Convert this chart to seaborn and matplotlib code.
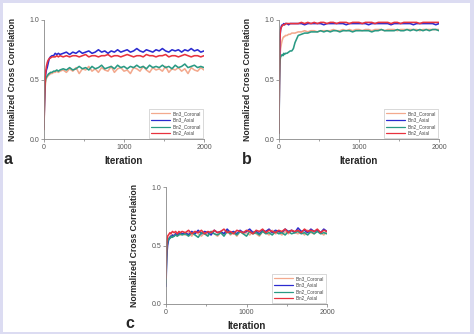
import numpy as np
import pandas as pd
import matplotlib
matplotlib.use("Agg")
import matplotlib.pyplot as plt
from matplotlib.patches import Rectangle
import seaborn as sns

# iteration grid (fine at the start, coarser later)
iters = [0, 5, 10, 15, 20, 30, 40, 50, 60, 70, 80, 100, 120, 140, 160, 180, 200] + list(range(240, 2001, 40))

series_names = ["Bin3_Coronal", "Bin3_Axial", "Bin2_Coronal", "Bin2_Axial"]
colors = ["#f3a98e", "#2b2bd0", "#2a9a84", "#e8323e"]

# panel a
a_bin3_cor = [0.08, 0.25, 0.38, 0.44, 0.48, 0.51, 0.52, 0.53, 0.54, 0.54, 0.55, 0.55, 0.56, 0.56, 0.57, 0.56, 0.57,
              0.58, 0.56, 0.59, 0.57, 0.60, 0.55, 0.59, 0.58, 0.61, 0.57, 0.59, 0.56, 0.60, 0.58, 0.57,
              0.61, 0.56, 0.59, 0.60, 0.57, 0.58, 0.55, 0.60, 0.59, 0.57, 0.61, 0.58, 0.56, 0.60, 0.58,
              0.59, 0.57, 0.61, 0.56, 0.59, 0.58, 0.60, 0.57, 0.59, 0.55, 0.60, 0.58, 0.57, 0.60, 0.58]
a_bin3_ax = [0.10, 0.28, 0.42, 0.50, 0.54, 0.58, 0.60, 0.63, 0.66, 0.68, 0.69, 0.70, 0.70, 0.72, 0.71, 0.72, 0.71,
             0.72, 0.73, 0.71, 0.73, 0.72, 0.74, 0.72, 0.73, 0.74, 0.72, 0.73, 0.75, 0.73, 0.74, 0.72,
             0.74, 0.73, 0.75, 0.73, 0.74, 0.75, 0.73, 0.74, 0.76, 0.74, 0.73, 0.75, 0.74, 0.73, 0.75,
             0.74, 0.76, 0.74, 0.73, 0.75, 0.74, 0.75, 0.73, 0.75, 0.74, 0.76, 0.74, 0.75, 0.73, 0.74]
a_bin2_cor = [0.12, 0.32, 0.42, 0.47, 0.50, 0.52, 0.53, 0.54, 0.55, 0.55, 0.56, 0.56, 0.57, 0.57, 0.58, 0.57, 0.58,
              0.59, 0.58, 0.60, 0.58, 0.59, 0.61, 0.59, 0.60, 0.58, 0.61, 0.59, 0.60, 0.62, 0.59, 0.60,
              0.61, 0.59, 0.62, 0.60, 0.61, 0.59, 0.61, 0.60, 0.62, 0.60, 0.61, 0.59, 0.62, 0.60, 0.61,
              0.60, 0.62, 0.60, 0.61, 0.59, 0.62, 0.60, 0.61, 0.63, 0.60, 0.61, 0.62, 0.60, 0.61, 0.60]
a_bin2_ax = [0.08, 0.28, 0.42, 0.51, 0.56, 0.61, 0.64, 0.66, 0.67, 0.68, 0.68, 0.69, 0.69, 0.69, 0.70, 0.69, 0.70,
             0.69, 0.70, 0.69, 0.70, 0.70, 0.69, 0.70, 0.71, 0.69, 0.70, 0.70, 0.69, 0.70, 0.70, 0.71,
             0.69, 0.70, 0.70, 0.69, 0.70, 0.71, 0.70, 0.69, 0.70, 0.70, 0.69, 0.71, 0.70, 0.70, 0.69,
             0.70, 0.70, 0.71, 0.69, 0.70, 0.70, 0.69, 0.70, 0.71, 0.70, 0.69, 0.70, 0.70, 0.69, 0.70]

# panel b
b_bin3_cor = [0.10, 0.50, 0.66, 0.72, 0.76, 0.80, 0.83, 0.85, 0.86, 0.86, 0.87, 0.87, 0.88, 0.88, 0.89, 0.89, 0.89,
              0.90, 0.90, 0.91, 0.90, 0.91, 0.91, 0.90, 0.91, 0.91, 0.91, 0.91, 0.92, 0.91, 0.91, 0.92,
              0.91, 0.92, 0.91, 0.92, 0.92, 0.91, 0.92, 0.92, 0.91, 0.92, 0.92, 0.92, 0.91, 0.92, 0.92,
              0.92, 0.91, 0.92, 0.92, 0.92, 0.92, 0.92, 0.92, 0.91, 0.92, 0.92, 0.92, 0.92, 0.92, 0.92]
b_bin3_ax = [0.05, 0.45, 0.78, 0.88, 0.92, 0.95, 0.96, 0.96, 0.97, 0.96, 0.97, 0.97, 0.96, 0.97, 0.97, 0.97, 0.97,
             0.97, 0.97, 0.96, 0.97, 0.97, 0.97, 0.97, 0.97, 0.96, 0.97, 0.97, 0.97, 0.97, 0.97, 0.97,
             0.96, 0.97, 0.97, 0.97, 0.97, 0.97, 0.97, 0.96, 0.97, 0.97, 0.97, 0.97, 0.97, 0.97, 0.96,
             0.97, 0.97, 0.97, 0.97, 0.97, 0.97, 0.96, 0.97, 0.97, 0.97, 0.97, 0.97, 0.97, 0.96, 0.97]
b_bin2_cor = [0.05, 0.45, 0.62, 0.67, 0.69, 0.70, 0.71, 0.70, 0.72, 0.71, 0.72, 0.72, 0.73, 0.74, 0.74, 0.76, 0.81,
              0.87, 0.88, 0.89, 0.89, 0.90, 0.90, 0.90, 0.91, 0.90, 0.91, 0.90, 0.91, 0.91, 0.90, 0.91,
              0.91, 0.91, 0.90, 0.91, 0.91, 0.91, 0.91, 0.91, 0.90, 0.91, 0.91, 0.92, 0.91, 0.91, 0.91,
              0.91, 0.92, 0.91, 0.91, 0.92, 0.91, 0.92, 0.91, 0.92, 0.91, 0.92, 0.91, 0.92, 0.92, 0.91]
b_bin2_ax = [0.05, 0.50, 0.80, 0.89, 0.92, 0.94, 0.95, 0.96, 0.96, 0.96, 0.97, 0.97, 0.97, 0.97, 0.97, 0.97, 0.97,
             0.97, 0.98, 0.97, 0.98, 0.97, 0.98, 0.97, 0.98, 0.98, 0.97, 0.98, 0.98, 0.97, 0.98, 0.98,
             0.98, 0.97, 0.98, 0.98, 0.98, 0.97, 0.98, 0.98, 0.98, 0.97, 0.98, 0.98, 0.98, 0.98, 0.97,
             0.98, 0.98, 0.97, 0.98, 0.98, 0.98, 0.98, 0.98, 0.97, 0.98, 0.98, 0.98, 0.98, 0.98, 0.98]

# panel c
c_bin3_cor = [0.20, 0.38, 0.48, 0.53, 0.55, 0.56, 0.57, 0.58, 0.57, 0.59, 0.58, 0.59, 0.60, 0.58, 0.60, 0.59, 0.60,
              0.59, 0.61, 0.58, 0.62, 0.60, 0.58, 0.61, 0.59, 0.62, 0.60, 0.58, 0.61, 0.60, 0.63, 0.59,
              0.61, 0.58, 0.62, 0.60, 0.61, 0.59, 0.62, 0.60, 0.58, 0.62, 0.61, 0.59, 0.63, 0.60, 0.61,
              0.59, 0.62, 0.60, 0.63, 0.61, 0.60, 0.62, 0.59, 0.63, 0.61, 0.60, 0.63, 0.61, 0.59, 0.62]
c_bin3_ax = [0.15, 0.30, 0.40, 0.46, 0.50, 0.54, 0.56, 0.57, 0.58, 0.57, 0.59, 0.58, 0.60, 0.59, 0.60, 0.61, 0.60,
             0.61, 0.59, 0.62, 0.60, 0.63, 0.60, 0.62, 0.61, 0.59, 0.63, 0.61, 0.62, 0.60, 0.64, 0.61,
             0.62, 0.60, 0.63, 0.61, 0.62, 0.64, 0.61, 0.62, 0.60, 0.63, 0.62, 0.64, 0.61, 0.63, 0.62,
             0.61, 0.64, 0.62, 0.63, 0.61, 0.65, 0.62, 0.63, 0.61, 0.64, 0.62, 0.63, 0.61, 0.64, 0.62]
c_bin2_cor = [0.18, 0.34, 0.45, 0.50, 0.53, 0.55, 0.56, 0.56, 0.57, 0.58, 0.57, 0.58, 0.59, 0.58, 0.59, 0.60, 0.59,
              0.60, 0.58, 0.61, 0.59, 0.57, 0.61, 0.60, 0.58, 0.62, 0.60, 0.59, 0.61, 0.58, 0.62, 0.60,
              0.61, 0.59, 0.62, 0.60, 0.58, 0.62, 0.60, 0.61, 0.59, 0.62, 0.60, 0.61, 0.59, 0.62, 0.60,
              0.61, 0.59, 0.62, 0.60, 0.61, 0.62, 0.60, 0.61, 0.59, 0.62, 0.60, 0.62, 0.60, 0.61, 0.60]
c_bin2_ax = [0.22, 0.42, 0.52, 0.56, 0.58, 0.59, 0.60, 0.61, 0.60, 0.61, 0.62, 0.61, 0.62, 0.60, 0.62, 0.61, 0.62,
             0.61, 0.63, 0.60, 0.62, 0.61, 0.63, 0.60, 0.62, 0.61, 0.63, 0.61, 0.62, 0.64, 0.61, 0.62,
             0.60, 0.63, 0.62, 0.61, 0.63, 0.62, 0.60, 0.63, 0.62, 0.64, 0.61, 0.63, 0.62, 0.61, 0.63,
             0.62, 0.64, 0.61, 0.63, 0.62, 0.63, 0.61, 0.64, 0.62, 0.63, 0.62, 0.64, 0.61, 0.63, 0.62]

panels = {
    "a": [a_bin3_cor, a_bin3_ax, a_bin2_cor, a_bin2_ax],
    "b": [b_bin3_cor, b_bin3_ax, b_bin2_cor, b_bin2_ax],
    "c": [c_bin3_cor, c_bin3_ax, c_bin2_cor, c_bin2_ax],
}

sns.set_style("white")
plt.rcParams["font.family"] = ["Liberation Sans", "DejaVu Sans"]

W, H = 474, 334
fig = plt.figure(figsize=(W / 100, H / 100), dpi=100)
fig.patch.set_facecolor("#dcdcf2")
fig.add_artist(Rectangle((3 / W, 2 / H), (470 - 3) / W, (331 - 2) / H,
                         transform=fig.transFigure, facecolor="white", edgecolor="none", zorder=-5))

# axes boxes in pixels: left, top, right, bottom
boxes = {"a": (44, 20, 204, 139), "b": (279, 20, 439, 139), "c": (166, 187, 327, 304)}
letters = {"a": (4, 159), "b": (242, 159), "c": (125, 324)}

for key, series in panels.items():
    l, t, r, b = boxes[key]
    ax = fig.add_axes([l / W, 1 - b / H, (r - l) / W, (b - t) / H])
    rows = []
    for name, vals in zip(series_names, series):
        for x, y in zip(iters, vals):
            rows.append((x, y, name))
    df = pd.DataFrame(rows, columns=["Iteration", "NCC", "Series"])
    sns.lineplot(data=df, x="Iteration", y="NCC", hue="Series", hue_order=series_names,
                 palette=colors, estimator=None, linewidth=1.15, ax=ax, legend=False)
    ax.set_xlim(0, 2000)
    ax.set_ylim(0, 1.0)
    ax.set_xticks([0, 1000, 2000])
    ax.set_xticks([500, 1500], minor=True)
    ax.set_yticks([0.0, 0.5, 1.0])
    ax.set_yticklabels(["0.0", "0.5", "1.0"])
    ax.tick_params(axis="both", which="major", labelsize=5, labelcolor="#555555",
                   length=2, width=0.5, color="#777777", pad=1.5, bottom=True, left=True)
    ax.tick_params(axis="x", which="minor", length=1.5, width=0.5, color="#777777", bottom=True)
    for s in ["top", "right"]:
        ax.spines[s].set_visible(False)
    for s in ["left", "bottom"]:
        ax.spines[s].set_color("#888888")
        ax.spines[s].set_linewidth(0.6)
    ax.set_xlabel("Iteration", fontsize=7, fontweight="bold", labelpad=3.5)
    ax.set_ylabel("Normalized Cross Correlation", fontsize=6.2, fontweight="bold", labelpad=9)

    handles = [plt.Line2D([], [], color=c, linewidth=0.9) for c in colors]
    leg = ax.legend(handles, series_names, loc="lower right", fontsize=3.3, frameon=True,
                    fancybox=False, edgecolor="#aaaaaa", handlelength=4, handletextpad=0.6,
                    labelspacing=0.35, borderpad=0.5, borderaxespad=0.2)
    leg.get_frame().set_linewidth(0.4)
    for txt in leg.get_texts():
        txt.set_color("#444444")

    lx, ly = letters[key]
    fig.text(lx / W, 1 - ly / H, key, fontsize=11.5, fontweight="bold", va="center", ha="left")

fig.savefig("out.png", dpi=100, facecolor=fig.get_facecolor())
